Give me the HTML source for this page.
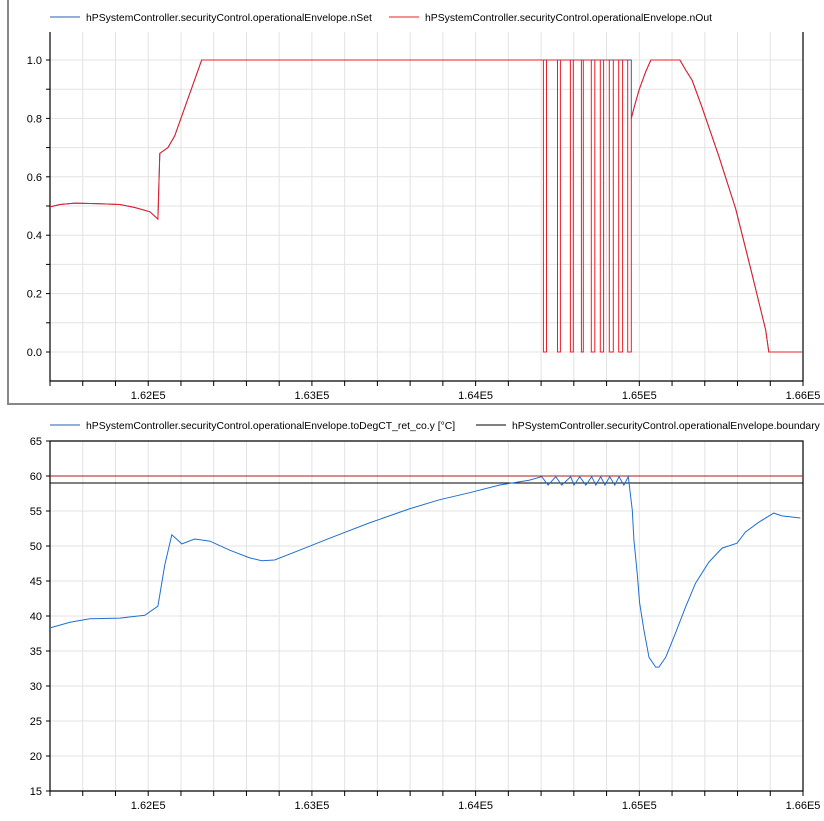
<!DOCTYPE html>
<html><head><meta charset="utf-8"><style>
body{margin:0;background:#fff;width:824px;height:816px;overflow:hidden;font-family:"Liberation Sans",sans-serif}
svg text{font-family:"Liberation Sans",sans-serif;font-size:11px;fill:#000}
svg text.lg{font-size:10.4px}
</style></head><body>
<svg id="s" width="824" height="816">
<rect x="0" y="0" width="824" height="816" fill="#fff"/>
<rect x="7" y="0" width="2" height="405" fill="#888"/>
<rect x="7" y="403" width="817" height="2" fill="#888"/>
<g id="top"></g>
<g id="bot"></g>
</svg>
<script>
const xMin=161400, xMax=166000;
const xTickVals=[162000,163000,164000,165000,166000];
const xTickLabels=["1.62E5","1.63E5","1.64E5","1.65E5","1.66E5"];
// top chart data
const nOutT=[161400,161461,161552,161705,161827,161918,162010,162059,162071,162120,162162,162327,164414,164414,164433,164433,164500,164500,164518,164518,164579,164579,164597,164597,164646,164646,164658,164658,164707,164707,164728,164728,164762,164762,164782,164782,164817,164817,164841,164841,164874,164874,164898,164898,164929,164929,164951,164951,164967,164998,165039,165071,165248,165283,165323,165382,165486,165589,165687,165772,165791,165992];
const nOutV=[0.497,0.505,0.51,0.508,0.505,0.495,0.48,0.455,0.68,0.70,0.74,1,1,0,0,1,1,0,0,1,1,0,0,1,1,0,0,1,1,0,0,1,1,0,0,1,1,0,0,1,1,0,0,1,1,0,0,0.8,0.835,0.897,0.96,1,1,0.966,0.93,0.84,0.67,0.49,0.27,0.075,0,0];
const nSetT=[161400,161461,161552,161705,161827,161918,162010,162059,162071,162120,162162,162327,164951,164951,164967,164998,165039,165071,165248,165283,165323,165382,165486,165589,165687,165772,165791,165992];
const nSetV=[0.497,0.505,0.51,0.508,0.505,0.495,0.48,0.455,0.68,0.70,0.74,1,1,0.8,0.835,0.897,0.96,1,1,0.966,0.93,0.84,0.67,0.49,0.27,0.075,0,0];
const topYTicks=[0,0.2,0.4,0.6,0.8,1.0];
const topYLabels=["0.0","0.2","0.4","0.6","0.8","1.0"];
// bottom chart data
const tempT=[161400,161522,161644,161827,161979,162059,162101,162144,162168,162205,162284,162376,162498,162620,162693,162772,162925,163107,163351,163595,163778,163961,164144,164327,164404,164443,164490,164526,164581,164601,164636,164673,164709,164734,164764,164790,164819,164850,164876,164906,164933,164957,164967,164987,165002,165028,165059,165100,165120,165161,165222,165283,165344,165425,165506,165597,165649,165730,165821,165872,165984];
const tempV=[38.3,39.1,39.6,39.7,40.1,41.4,47.3,51.6,51.1,50.3,51,50.7,49.4,48.3,47.9,48,49.4,51.1,53.3,55.3,56.6,57.6,58.7,59.4,59.9,58.7,59.9,58.7,59.9,58.7,59.9,58.7,59.9,58.7,59.9,58.7,59.9,58.7,59.9,58.7,59.9,55.1,50.9,46.1,41.9,38,34.1,32.7,32.7,34.1,37.6,41.3,44.7,47.7,49.7,50.4,52,53.4,54.7,54.3,54];
const upperLimit=[60];
const lowerLimit=[59];
const botYTicks=[15,20,25,30,35,40,45,50,55,60,65];

const NS="http://www.w3.org/2000/svg";
const L=50,R=803;
function sx(t){return L+(t-xMin)/(xMax-xMin)*(R-L);}
function mk(p,tag,a){const e=document.createElementNS(NS,tag);for(const k in a)e.setAttribute(k,a[k]);p.appendChild(e);return e;}
function path(ts,vs,sy){return ts.map((t,i)=>(i?"L":"M")+sx(t).toFixed(1)+","+sy(vs[i]).toFixed(1)).join("");}

function frame(g,top,bot,sy,yMinor,yMajor,yLabels,topLine){
  for(let t=161400;t<=166000;t+=200){const x=sx(t);
    const gl=mk(g,"line",{x1:x,x2:x,y1:top,y2:bot,stroke:"#e3e3e3"});
    
    
    const tk=mk(g,"line",{x1:x,x2:x,y1:bot,y2:bot+5,stroke:"#000"});
    
    }
  yMinor.forEach(v=>{const y=sy(v);
    const gl=mk(g,"line",{x1:L,x2:R,y1:y,y2:y,stroke:"#e3e3e3"});
    
    
    const tk=mk(g,"line",{x1:L-4,x2:L,y1:y,y2:y,stroke:"#000"});
    
    });
  yMajor.forEach((v,i)=>{const tx=mk(g,"text",{x:L-8,y:sy(v)+4,"text-anchor":"end"});tx.textContent=yLabels[i];
    
    });
  xTickVals.forEach((v,i)=>{const tx=mk(g,"text",{x:sx(v),y:bot+18,"text-anchor":"middle"});tx.textContent=xTickLabels[i];
    
    });
  const ax=mk(g,"path",{d:`M${L},${top}V${bot}H${R}V${top}`+(topLine?`H${L}`:""),fill:"none",stroke:"#000","stroke-width":1.2});
  
  
}
function legend(g,x,y,color,text){
  const l=mk(g,"line",{x1:x,x2:x+30,y1:y,y2:y,stroke:color});
  
  
  const t=mk(g,"text",{x:x+36,y:y+4,"class":"lg"});t.textContent=text;
  
  
}
// top chart
const gT=document.getElementById("top");
const syT=v=>352-v*292;
const tMinor=[];for(let i=0;i<=10;i++)tMinor.push(i/10);
frame(gT,32,381,syT,tMinor,topYTicks,topYLabels,false);
const p1=mk(gT,"path",{d:path(nSetT,nSetV,syT),fill:"none",stroke:"#1f5fbf"});


const p2=mk(gT,"path",{d:path(nOutT,nOutV,syT),fill:"none",stroke:"#ee1c24"});


legend(gT,50,17,"#1f5fbf","hPSystemController.securityControl.operationalEnvelope.nSet");
legend(gT,389,17,"#ee1c24","hPSystemController.securityControl.operationalEnvelope.nOut");
// bottom chart
const gB=document.getElementById("bot");
const syB=v=>441+(65-v)*7;
frame(gB,441,791,syB,botYTicks,botYTicks,botYTicks.map(String),true);
const u=mk(gB,"line",{x1:L,x2:R,y1:syB(upperLimit[0]),y2:syB(upperLimit[0]),stroke:"#b01818"});


const lo=mk(gB,"line",{x1:L,x2:R,y1:syB(lowerLimit[0]),y2:syB(lowerLimit[0]),stroke:"#000"});


const p3=mk(gB,"path",{d:path(tempT,tempV,syB),fill:"none",stroke:"#1f6fd0"});


legend(gB,50,425,"#1f5fbf","hPSystemController.securityControl.operationalEnvelope.toDegCT_ret_co.y [°C]");
legend(gB,476,425,"#000","hPSystemController.securityControl.operationalEnvelope.boundary");
</script>
</body></html>
